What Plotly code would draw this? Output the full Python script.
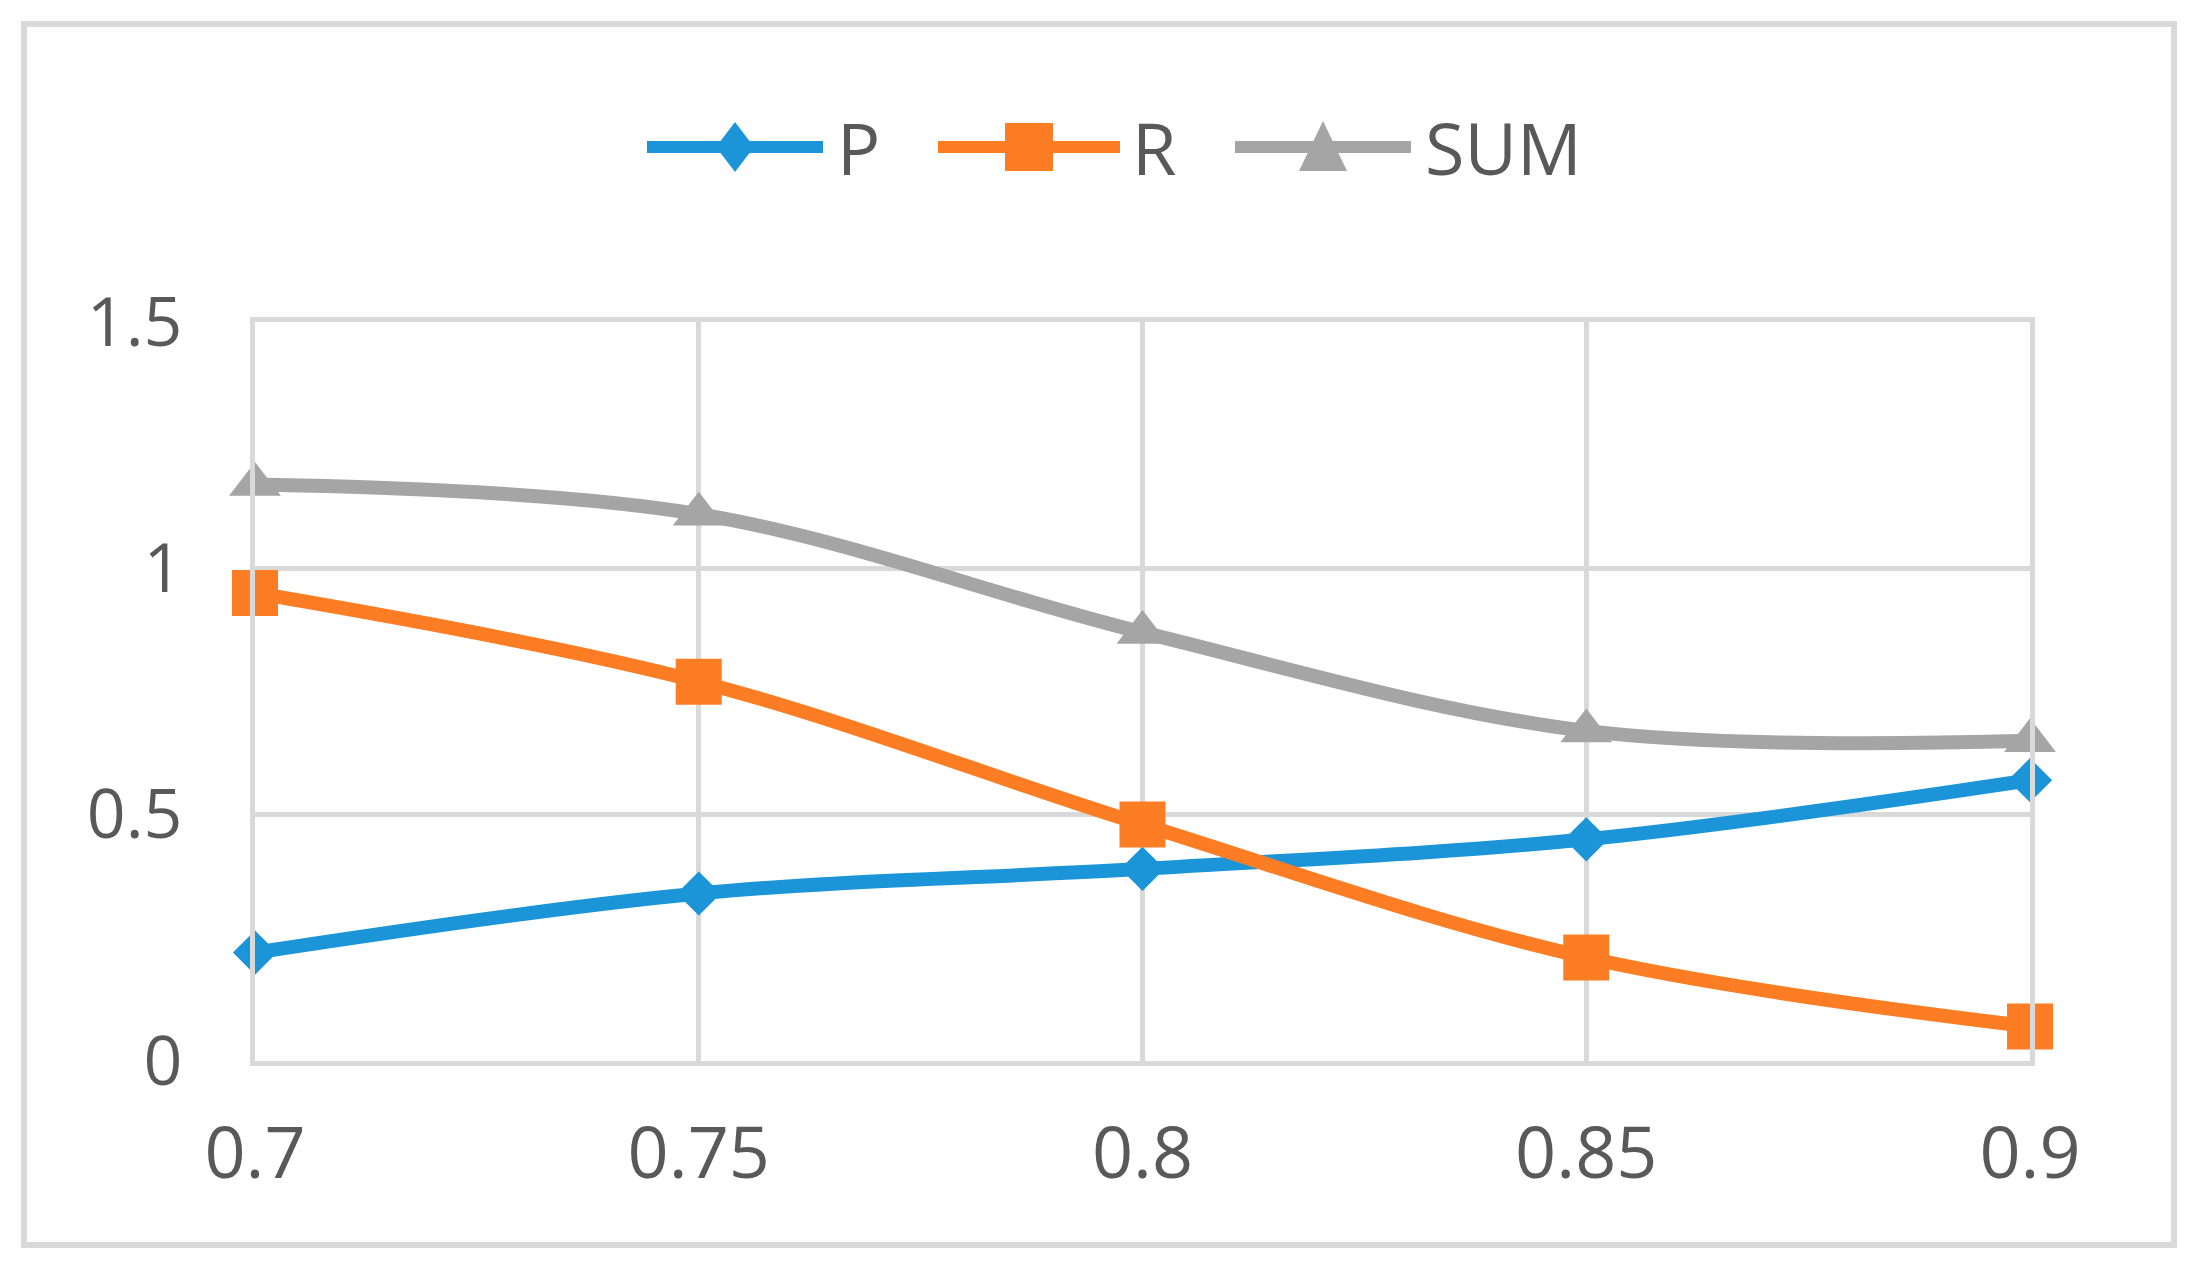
"""Line chart of P, R and SUM against threshold, recreated with Plotly."""

import plotly.graph_objects as go

# Data
thresholds = [0.7, 0.75, 0.8, 0.85, 0.9]
x_tick_labels = ['0.7', '0.75', '0.8', '0.85', '0.9']
p_values = [0.22, 0.34, 0.39, 0.45, 0.57]
r_values = [0.95, 0.77, 0.48, 0.21, 0.07]
sum_values = [1.17, 1.11, 0.87, 0.67, 0.65]
y_tick_values = [0, 0.5, 1, 1.5]
y_tick_labels = ['0', '0.5', '1', '1.5']
series_names = ['P', 'R', 'SUM']

# Page layout in pixels (the page body adds an 8px margin round the figure)
BODY = 8
PLOT_LEFT, PLOT_RIGHT = 255, 2030
PLOT_TOP, PLOT_BOTTOM = 322, 1061
WIDTH, HEIGHT = 2196 - BODY, 1279 - BODY

FONT = 'Open Sans'
TEXT_COLOR = '#595959'
GRID_COLOR = '#D9D9D9'
COLORS = ['#1B95D8', '#FC7D24', '#A5A5A5']
LINE_WIDTH = 14


def px_x(x):
    """Page pixel x -> paper coordinate."""
    return (x - PLOT_LEFT) / (PLOT_RIGHT - PLOT_LEFT)


def px_y(y):
    """Page pixel y -> paper coordinate."""
    return (PLOT_BOTTOM - y) / (PLOT_BOTTOM - PLOT_TOP)


fig = go.Figure()

# One trace per series: values, marker symbol, marker size
series = [
    (p_values, 'diamond', 34),
    (r_values, 'square', 46),
    (sum_values, 'triangle-up', 45),
]
for name, color, (values, symbol, size) in zip(series_names, COLORS, series):
    fig.add_trace(go.Scatter(
        x=thresholds,
        y=values,
        mode='lines+markers',
        name=name,
        line=dict(color=color, width=LINE_WIDTH, shape='spline', smoothing=1.0),
        marker=dict(color=color, symbol=symbol, size=size, line=dict(width=0)),
        cliponaxis=False,
    ))

axis_style = dict(
    showgrid=True,
    gridcolor=GRID_COLOR,
    gridwidth=5,
    showline=True,
    linecolor=GRID_COLOR,
    linewidth=5,
    mirror=True,
    zeroline=False,
    ticks='',
)
fig.update_xaxes(
    range=[0.7, 0.9],
    tickvals=thresholds,
    ticktext=x_tick_labels,
    ticklabelstandoff=26,
    tickfont=dict(family=FONT, size=72, color=TEXT_COLOR),
    **axis_style,
)
fig.update_yaxes(
    range=[0, 1.5],
    tickvals=y_tick_values,
    ticktext=y_tick_labels,
    ticklabelstandoff=54,
    tickfont=dict(family=FONT, size=68, color=TEXT_COLOR),
    **axis_style,
)

# Outer chart border
fig.add_shape(
    type='rect', xref='paper', yref='paper',
    x0=px_x(24), x1=px_x(2174), y0=px_y(1245), y1=px_y(24),
    line=dict(color=GRID_COLOR, width=6),
    layer='below',
)

# Legend drawn by hand so the sample lines are as long as in the original
LEGEND_Y = 147
legend_items = [
    # line start, line end, text left (page px)
    (647, 823, 835),
    (938, 1120, 1130),
    (1235, 1411, 1423),
]
marker_paths = [
    'M0,25 L19,0 L0,-25 L-19,0 Z',          # diamond
    'M-24,-24 L24,-24 L24,24 L-24,24 Z',    # square
    'M-24,-24 L24,-24 L0,26 Z',             # triangle
]
for name, color, (x0, x1, tx), path in zip(series_names, COLORS,
                                            legend_items, marker_paths):
    fig.add_shape(
        type='line', xref='paper', yref='paper',
        x0=px_x(x0), x1=px_x(x1), y0=px_y(LEGEND_Y), y1=px_y(LEGEND_Y),
        line=dict(color=color, width=12),
    )
    fig.add_shape(
        type='path', xref='paper', yref='paper',
        xsizemode='pixel', ysizemode='pixel',
        xanchor=px_x((x0 + x1) / 2), yanchor=px_y(LEGEND_Y),
        path=path,
        fillcolor=color,
        line=dict(width=0),
    )
    fig.add_annotation(
        x=px_x(tx), y=px_y(LEGEND_Y), xref='paper', yref='paper',
        text=name, showarrow=False,
        xanchor='left', yanchor='middle',
        font=dict(family=FONT, size=72, color=TEXT_COLOR),
    )

fig.update_layout(
    width=WIDTH,
    height=HEIGHT,
    margin=dict(l=PLOT_LEFT - BODY, r=WIDTH + BODY - PLOT_RIGHT,
                t=PLOT_TOP - BODY, b=HEIGHT + BODY - PLOT_BOTTOM),
    paper_bgcolor='white',
    plot_bgcolor='white',
    font=dict(family=FONT, color=TEXT_COLOR),
    showlegend=False,
)

fig.write_html("out.html")
